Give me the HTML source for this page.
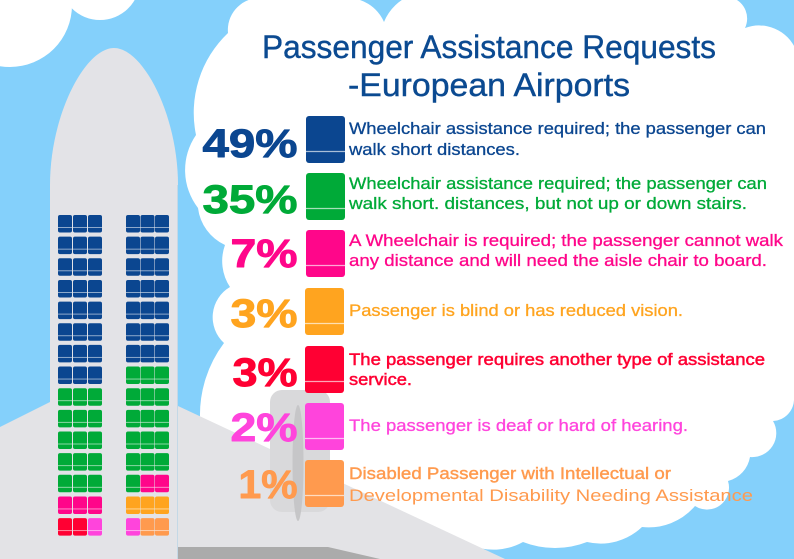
<!DOCTYPE html>
<html><head><meta charset="utf-8"><style>
html,body{margin:0;padding:0;background:#84D0FB;}
svg{display:block;}
text{font-family:"Liberation Sans",Arial,sans-serif;}
</style></head><body>
<svg width="794" height="559" viewBox="0 0 794 559" xmlns="http://www.w3.org/2000/svg">
<defs>
<g id="s"><rect x="0" y="0" width="14" height="17.5" rx="2"/><line x1="0" x2="14" y1="12.5" y2="12.5" stroke="#ffffff" stroke-opacity="0.6" stroke-width="0.9"/></g>
<g id="b"><rect x="0" y="0" width="39" height="47" rx="3"/><line x1="0" x2="39" y1="35.5" y2="35.5" stroke="#ffffff" stroke-opacity="0.65" stroke-width="1.2"/></g>
</defs>
<rect x="0" y="0" width="794" height="559" fill="#84D0FB"/>
<!-- top-left cloud -->
<circle cx="10" cy="5" r="62" fill="#fff"/>
<circle cx="100" cy="-20" r="40" fill="#fff"/>
<!-- big cloud -->
<path fill="#fff" d="M196,135 A110,110 0 0 1 228,33 A32,32 0 0 1 258,-2 L345,-2 A40,40 0 0 1 384,22 A48,48 0 0 1 452,-2 L733,-2 A22,22 0 0 1 745,28 A40,40 0 0 1 796,50 L800,50 L800,396 L794,398 A22,22 0 0 1 773,421 A24,24 0 0 1 750,457 A30,30 0 0 1 728,481 A22,22 0 0 1 695,506 A61,61 0 0 1 642,527 A60,60 0 0 1 587,542 A88,88 0 0 1 523,542 A61,61 0 0 1 470,545 L440,559 L210,559 L200,418 A120,120 0 0 1 224,343 A35,35 0 0 1 230,287 A47,47 0 0 1 225,245 A47,47 0 0 1 198,208 A62,62 0 0 1 196,135 Z"/>
<!-- wings -->
<path fill="#E3E3E6" d="M0,427 L50,402 L178,406 L505,559 L0,559 Z"/>
<!-- engine -->
<rect x="270" y="390" width="60" height="122" rx="12" fill="#D9D9DB"/>
<ellipse cx="298" cy="463" rx="5.5" ry="58" fill="#C6C6C8"/>
<!-- fuselage -->
<path fill="#E3E3E7" d="M50,559 L50,185 C50,115 85,48 114,48 C143,48 178,115 178,185 L178,559 Z"/>
<line x1="177.5" y1="185" x2="177.5" y2="559" stroke="#C4D8E6" stroke-width="1"/>
<path fill="#ABABAB" d="M178,547 L328,547 L380,559 L178,559 Z"/>

<!-- seats -->
<g fill="#0B4690">
<use href="#s" x="58" y="215"/><use href="#s" x="73" y="215"/><use href="#s" x="88" y="215"/>
<use href="#s" x="58" y="236.65"/><use href="#s" x="73" y="236.65"/><use href="#s" x="88" y="236.65"/>
<use href="#s" x="58" y="258.3"/><use href="#s" x="73" y="258.3"/><use href="#s" x="88" y="258.3"/>
<use href="#s" x="58" y="279.95"/><use href="#s" x="73" y="279.95"/><use href="#s" x="88" y="279.95"/>
<use href="#s" x="58" y="301.6"/><use href="#s" x="73" y="301.6"/><use href="#s" x="88" y="301.6"/>
<use href="#s" x="58" y="323.25"/><use href="#s" x="73" y="323.25"/><use href="#s" x="88" y="323.25"/>
<use href="#s" x="58" y="344.9"/><use href="#s" x="73" y="344.9"/><use href="#s" x="88" y="344.9"/>
<use href="#s" x="58" y="366.55"/><use href="#s" x="73" y="366.55"/><use href="#s" x="88" y="366.55"/>
<use href="#s" x="126" y="215"/><use href="#s" x="140.5" y="215"/><use href="#s" x="155" y="215"/>
<use href="#s" x="126" y="236.65"/><use href="#s" x="140.5" y="236.65"/><use href="#s" x="155" y="236.65"/>
<use href="#s" x="126" y="258.3"/><use href="#s" x="140.5" y="258.3"/><use href="#s" x="155" y="258.3"/>
<use href="#s" x="126" y="279.95"/><use href="#s" x="140.5" y="279.95"/><use href="#s" x="155" y="279.95"/>
<use href="#s" x="126" y="301.6"/><use href="#s" x="140.5" y="301.6"/><use href="#s" x="155" y="301.6"/>
<use href="#s" x="126" y="323.25"/><use href="#s" x="140.5" y="323.25"/><use href="#s" x="155" y="323.25"/>
<use href="#s" x="126" y="344.9"/><use href="#s" x="140.5" y="344.9"/><use href="#s" x="155" y="344.9"/>
</g>
<g fill="#00AA38">
<use href="#s" x="58" y="388.2"/><use href="#s" x="73" y="388.2"/><use href="#s" x="88" y="388.2"/>
<use href="#s" x="58" y="409.85"/><use href="#s" x="73" y="409.85"/><use href="#s" x="88" y="409.85"/>
<use href="#s" x="58" y="431.5"/><use href="#s" x="73" y="431.5"/><use href="#s" x="88" y="431.5"/>
<use href="#s" x="58" y="453.15"/><use href="#s" x="73" y="453.15"/><use href="#s" x="88" y="453.15"/>
<use href="#s" x="58" y="474.8"/><use href="#s" x="73" y="474.8"/><use href="#s" x="88" y="474.8"/>
<use href="#s" x="126" y="366.55"/><use href="#s" x="140.5" y="366.55"/><use href="#s" x="155" y="366.55"/>
<use href="#s" x="126" y="388.2"/><use href="#s" x="140.5" y="388.2"/><use href="#s" x="155" y="388.2"/>
<use href="#s" x="126" y="409.85"/><use href="#s" x="140.5" y="409.85"/><use href="#s" x="155" y="409.85"/>
<use href="#s" x="126" y="431.5"/><use href="#s" x="140.5" y="431.5"/><use href="#s" x="155" y="431.5"/>
<use href="#s" x="126" y="453.15"/><use href="#s" x="140.5" y="453.15"/><use href="#s" x="155" y="453.15"/>
<use href="#s" x="126" y="474.8"/>
</g>
<g fill="#FF068A">
<use href="#s" x="58" y="496.45"/><use href="#s" x="73" y="496.45"/><use href="#s" x="88" y="496.45"/>
<use href="#s" x="140.5" y="474.8"/><use href="#s" x="155" y="474.8"/>
</g>
<g fill="#FF0033">
<use href="#s" x="58" y="518.1"/><use href="#s" x="73" y="518.1"/>
</g>
<g fill="#FF44DC">
<use href="#s" x="88" y="518.1"/><use href="#s" x="126" y="518.1"/>
</g>
<g fill="#FFA41F">
<use href="#s" x="126" y="496.45"/><use href="#s" x="140.5" y="496.45"/><use href="#s" x="155" y="496.45"/>
</g>
<g fill="#FF9A4E">
<use href="#s" x="140.5" y="518.1"/><use href="#s" x="155" y="518.1"/>
</g>

<!-- title -->
<g stroke="#0B4A91" stroke-width="0.4">
<text x="262" y="58" font-size="32" fill="#0B4A91" textLength="454" lengthAdjust="spacingAndGlyphs">Passenger Assistance Requests</text>
<text x="348" y="96" font-size="32" fill="#0B4A91" textLength="282" lengthAdjust="spacingAndGlyphs">-European Airports</text>
</g>

<!-- legend icons -->
<use href="#b" x="306" y="116" fill="#0B4690"/>
<use href="#b" x="306" y="173" fill="#00AA38"/>
<use href="#b" x="306" y="230" fill="#FF068A"/>
<use href="#b" x="305" y="288" fill="#FFA41F"/>
<use href="#b" x="305" y="346" fill="#FF0033"/>
<use href="#b" x="305" y="403" fill="#FF44DC"/>
<use href="#b" x="305" y="460" fill="#FF9A4E"/>

<!-- percentages -->
<g font-size="40" font-weight="bold" stroke-width="0.9" stroke-linejoin="round">
<text x="202.5" y="157" fill="#0B4690" stroke="#0B4690" textLength="95" lengthAdjust="spacingAndGlyphs">49%</text>
<text x="202.5" y="213" fill="#00AA38" stroke="#00AA38" textLength="95" lengthAdjust="spacingAndGlyphs">35%</text>
<text x="230.5" y="267" fill="#FF068A" stroke="#FF068A" textLength="67" lengthAdjust="spacingAndGlyphs">7%</text>
<text x="230.5" y="327" fill="#FFA41F" stroke="#FFA41F" textLength="67" lengthAdjust="spacingAndGlyphs">3%</text>
<text x="232.5" y="386" fill="#FF0033" stroke="#FF0033" textLength="65" lengthAdjust="spacingAndGlyphs">3%</text>
<text x="230.5" y="441" fill="#FF44DC" stroke="#FF44DC" textLength="67" lengthAdjust="spacingAndGlyphs">2%</text>
<text x="238.5" y="498" fill="#FF9A4E" stroke="#FF9A4E" textLength="59" lengthAdjust="spacingAndGlyphs">1%</text>
</g>

<!-- descriptions -->
<g font-size="17" stroke-width="0.3">
<text x="349" y="134" fill="#0B4690" stroke="#0B4690" textLength="417" lengthAdjust="spacingAndGlyphs">Wheelchair assistance required; the passenger can</text>
<text x="349" y="155" fill="#0B4690" stroke="#0B4690" textLength="171" lengthAdjust="spacingAndGlyphs">walk short distances.</text>
<text x="349" y="189" fill="#00AA38" stroke="#00AA38" textLength="418" lengthAdjust="spacingAndGlyphs">Wheelchair assistance required; the passenger can</text>
<text x="349" y="209" fill="#00AA38" stroke="#00AA38" textLength="398" lengthAdjust="spacingAndGlyphs">walk short. distances, but not up or down stairs.</text>
<text x="349" y="246" fill="#FF068A" stroke="#FF068A" textLength="434" lengthAdjust="spacingAndGlyphs">A Wheelchair is required; the passenger cannot walk</text>
<text x="349" y="266" fill="#FF068A" stroke="#FF068A" textLength="418" lengthAdjust="spacingAndGlyphs">any distance and will need the aisle chair to board.</text>
<text x="349" y="316" fill="#FFA41F" stroke="#FFA41F" textLength="334" lengthAdjust="spacingAndGlyphs">Passenger is blind or has reduced vision.</text>
<text x="349" y="365" fill="#FF0033" stroke="#FF0033" stroke-width="0.5" textLength="416" lengthAdjust="spacingAndGlyphs">The passenger requires another type of assistance</text>
<text x="349" y="385" fill="#FF0033" stroke="#FF0033" stroke-width="0.5" textLength="63" lengthAdjust="spacingAndGlyphs">service.</text>
<text x="349" y="431" fill="#FF44DC" stroke="#FF44DC" textLength="339" lengthAdjust="spacingAndGlyphs">The passenger is deaf or hard of hearing.</text>
<text x="349" y="479" fill="#FF9A4E" stroke="#FF9A4E" stroke-width="0.4" textLength="322" lengthAdjust="spacingAndGlyphs">Disabled Passenger with Intellectual or</text>
<text x="349" y="501" fill="#FF9A4E" textLength="404" lengthAdjust="spacingAndGlyphs">Developmental Disability Needing Assistance</text>
</g>
</svg>
</body></html>
